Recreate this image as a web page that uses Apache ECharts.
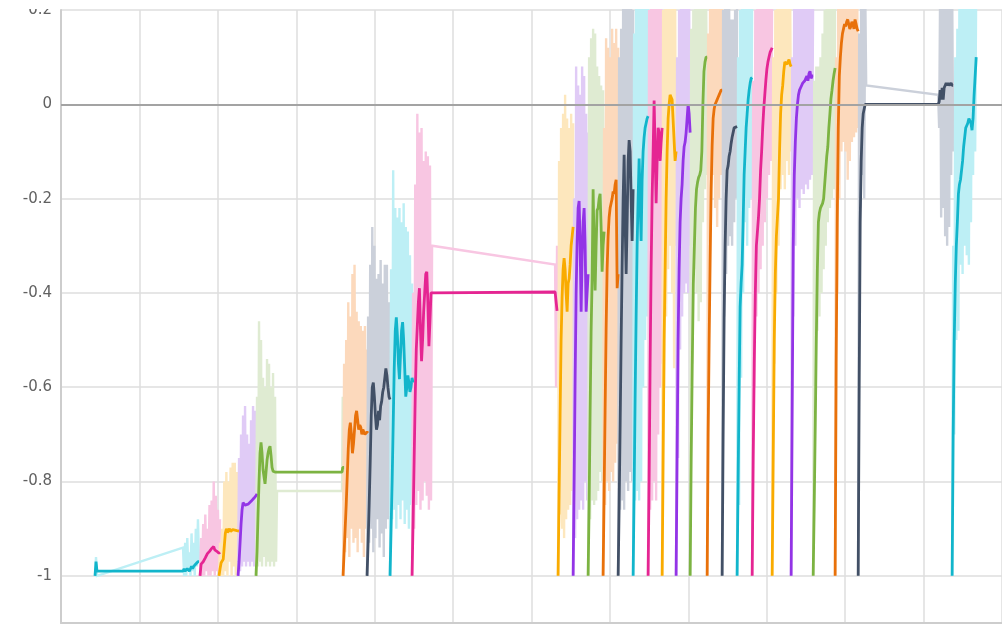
<!DOCTYPE html>
<html><head><meta charset="utf-8">
<script src="https://cdn.jsdelivr.net/npm/echarts@6/dist/echarts.min.js"></script>
<style>
html,body{margin:0;padding:0;background:#fff;width:1002px;height:625px;overflow:hidden}
#chart{position:absolute;left:0;top:9px;width:1002px;height:616px}
</style>
</head><body><div id="chart"></div>
<script>
// ---- axis ----
const STEP_MIN = 0, STEP_MAX = 12000, STEP_GRID = 1000;
const Y_MIN = -1.1, Y_MAX = 0.2;

// ---- run colour cycle (smoothed / raw) ----
const RUN_COLORS = ['#12b5cb','#e52592','#f9ab00','#9334e6','#7cb342','#e8710a','#425066'];
const RAW_COLORS = ['#bdeff5','#f8c6e2','#fde7bd','#e0cbf6','#dfebd2','#fcd9bc','#cbd0da'];

// ---- runs: step spans of each logged segment, raw values, smoothed values ----
const span01 = [[434,459],[1556,1760]];
const raw01 = [[-1.0,-0.96,-1.0],[-0.94,-1.0,-0.93,-1.0,-0.92,-0.99,-0.95,-1.0,-0.91,-0.99,-0.93,-1.0,-0.90,-0.98,-0.88,-0.97]];
const smo01 = [[-1.0,-0.97,-0.99],[-0.99,-0.985,-0.99,-0.99,-0.985,-0.985,-0.99,-0.985,-0.98,-0.985,-0.98,-0.98,-0.975,-0.975,-0.97,-0.97]];

const span02 = [[1773,2028]];
const raw02 = [[-1.0,-0.92,-1.0,-0.89,-1.0,-0.87,-0.99,-0.90,-1.0,-0.85,-1.0,-0.84,-0.99,-0.80,-1.0,-0.83,-0.99,-0.86,-1.0,-0.88]];
const smo02 = [[-1.0,-0.975,-0.972,-0.97,-0.966,-0.962,-0.958,-0.953,-0.95,-0.948,-0.945,-0.942,-0.94,-0.938,-0.945,-0.942,-0.948,-0.95,-0.952,-0.95]];

const span03 = [[2015,2270]];
const raw03 = [[-1.0,-0.93,-1.0,-0.90,-1.0,-0.80,-0.99,-0.78,-1.0,-0.80,-0.97,-0.77,-1.0,-0.76,-0.98,-0.76,-1.0,-0.78,-0.97,-0.83]];
const smo03 = [[-1.0,-0.985,-0.972,-0.97,-0.965,-0.962,-0.91,-0.90,-0.908,-0.905,-0.90,-0.906,-0.904,-0.902,-0.905,-0.903,-0.906,-0.904,-0.903,-0.905]];

const span04 = [[2258,2500]];
const raw04 = [[-1.0,-0.75,-0.99,-0.70,-0.98,-0.66,-0.97,-0.64,-0.98,-0.70,-0.97,-0.72,-0.98,-0.67,-0.97,-0.64,-0.98,-0.65,-0.97,-0.69]];
const smo04 = [[-1.0,-0.97,-0.93,-0.89,-0.86,-0.845,-0.848,-0.85,-0.846,-0.85,-0.848,-0.852,-0.845,-0.842,-0.84,-0.838,-0.835,-0.832,-0.83,-0.826]];

const span05 = [[2487,2755],[3584,3610]];
const raw05 = [[-1.0,-0.62,-0.98,-0.46,-0.97,-0.50,-0.98,-0.58,-0.96,-0.60,-0.98,-0.54,-0.97,-0.55,-0.98,-0.60,-0.97,-0.57,-0.98,-0.62,-0.97,-0.82],[-0.82,-0.62,-0.84,-0.70]];
const smo05 = [[-1.0,-0.95,-0.87,-0.80,-0.74,-0.717,-0.74,-0.775,-0.79,-0.805,-0.78,-0.755,-0.74,-0.73,-0.725,-0.745,-0.77,-0.778,-0.776,-0.78,-0.779,-0.78],[-0.78,-0.77,-0.77,-0.77]];

const span06 = [[3597,3916]];
const raw06 = [[-1.0,-0.55,-0.95,-0.50,-0.92,-0.42,-0.96,-0.45,-0.90,-0.36,-0.93,-0.34,-0.92,-0.44,-0.95,-0.46,-0.90,-0.47,-0.93,-0.48,-0.96,-0.47,-0.90,-0.52,-0.93]];
const smo06 = [[-1.0,-0.95,-0.90,-0.85,-0.79,-0.73,-0.69,-0.675,-0.70,-0.74,-0.72,-0.69,-0.66,-0.65,-0.67,-0.69,-0.68,-0.685,-0.70,-0.69,-0.695,-0.70,-0.698,-0.695,-0.697]];

const span07 = [[3903,4196]];
const raw07 = [[-1.0,-0.45,-0.93,-0.34,-0.90,-0.26,-0.95,-0.30,-0.92,-0.37,-0.88,-0.36,-0.94,-0.33,-0.91,-0.38,-0.96,-0.34,-0.90,-0.34,-0.88,-0.42,-0.90]];
const smo07 = [[-1.0,-0.93,-0.85,-0.76,-0.66,-0.60,-0.59,-0.62,-0.66,-0.69,-0.68,-0.65,-0.67,-0.64,-0.63,-0.61,-0.60,-0.58,-0.56,-0.575,-0.60,-0.62,-0.626]];

const span08 = [[4196,4490]];
const raw08 = [[-1.0,-0.35,-0.88,-0.14,-0.86,-0.22,-0.90,-0.24,-0.85,-0.22,-0.88,-0.25,-0.84,-0.21,-0.89,-0.26,-0.86,-0.27,-0.90,-0.32,-0.85,-0.38,-0.87]];
const smo08 = [[-1.0,-0.90,-0.80,-0.68,-0.56,-0.48,-0.452,-0.49,-0.55,-0.583,-0.53,-0.48,-0.462,-0.50,-0.56,-0.62,-0.60,-0.575,-0.59,-0.61,-0.60,-0.58,-0.59]];

const span09 = [[4477,4732],[6301,6326]];
const raw09 = [[-1.0,-0.40,-0.90,-0.17,-0.85,-0.02,-0.82,-0.06,-0.86,-0.05,-0.84,-0.12,-0.80,-0.10,-0.83,-0.11,-0.86,-0.13,-0.84,-0.30],[-0.34,-0.60,-0.30]];
const smo09 = [[-1.0,-0.88,-0.75,-0.62,-0.52,-0.47,-0.42,-0.39,-0.48,-0.545,-0.50,-0.44,-0.40,-0.36,-0.355,-0.42,-0.513,-0.46,-0.40,-0.397],[-0.398,-0.40,-0.438]];

const span10 = [[6339,6531]];
const raw10 = [[-1.0,-0.12,-0.87,-0.05,-0.90,-0.02,-0.92,0.02,-0.88,-0.03,-0.86,-0.05,-0.85,-0.02,-0.82,-0.04]];
const smo10 = [[-1.0,-0.83,-0.66,-0.50,-0.41,-0.35,-0.326,-0.35,-0.40,-0.44,-0.38,-0.37,-0.34,-0.30,-0.28,-0.26]];

const span11 = [[6531,6722]];
const raw11 = [[-1.0,-0.20,-0.92,0.08,-0.88,0.04,-0.86,0.02,-0.84,0.08,-0.86,0.06,-0.80,-0.02,-0.84,-0.06]];
const smo11 = [[-1.0,-0.80,-0.58,-0.40,-0.29,-0.22,-0.205,-0.30,-0.44,-0.32,-0.25,-0.22,-0.30,-0.44,-0.40,-0.36]];

const span12 = [[6722,6926]];
const raw12 = [[-1.0,0.10,-0.88,0.14,-0.84,0.16,-0.85,0.15,-0.84,0.08,-0.82,0.06,-0.78,0.04,-0.80,0.03,-0.75]];
const smo12 = [[-1.0,-0.85,-0.65,-0.48,-0.37,-0.18,-0.30,-0.395,-0.30,-0.225,-0.22,-0.20,-0.19,-0.26,-0.355,-0.30,-0.27]];

const span13 = [[6913,7105]];
const raw13 = [[-1.0,-0.05,-0.85,0.14,-0.80,0.12,-0.82,0.10,-0.78,0.16,-0.80,0.13,-0.76,0.16,-0.72,0.12]];
const smo13 = [[-1.0,-0.83,-0.65,-0.48,-0.35,-0.28,-0.24,-0.22,-0.21,-0.20,-0.185,-0.19,-0.17,-0.16,-0.39,-0.36]];

const span14 = [[7105,7296]];
const raw14 = [[-1.0,0.10,-0.86,0.16,-0.84,0.22,-0.86,0.25,-0.80,0.22,-0.82,0.25,-0.78,0.22,-0.80,0.20]];
const smo14 = [[-1.0,-0.85,-0.68,-0.50,-0.34,-0.20,-0.107,-0.25,-0.36,-0.25,-0.12,-0.076,-0.10,-0.20,-0.29,-0.18]];

const span15 = [[7296,7487]];
const raw15 = [[-1.0,0.15,-0.84,0.25,-0.82,0.25,-0.84,0.22,-0.80,0.25,-0.60,0.25,-0.50,0.22,-0.45,0.25]];
const smo15 = [[-1.0,-0.82,-0.62,-0.45,-0.30,-0.20,-0.115,-0.20,-0.29,-0.16,-0.10,-0.07,-0.05,-0.04,-0.03,-0.025]];

const span16 = [[7487,7666]];
const raw16 = [[-1.0,0.20,-0.86,0.25,-0.84,0.25,-0.80,0.25,-0.84,0.25,-0.70,0.25,-0.60,0.25,-0.55]];
const smo16 = [[-1.0,-0.80,-0.55,-0.35,-0.20,-0.10,0.008,-0.10,-0.21,-0.12,-0.05,-0.06,-0.12,-0.08,-0.05]];

const span17 = [[7666,7844]];
const raw17 = [[-1.0,0.20,-0.60,0.25,-0.45,0.25,-0.35,0.25,-0.30,0.25,-0.40,0.25,-0.56,0.22,-0.30]];
const smo17 = [[-1.0,-0.75,-0.50,-0.35,-0.20,-0.10,-0.03,0.0,0.02,0.015,0.01,0.012,0.01,-0.12,-0.10]];

const span18 = [[7844,8023]];
const raw18 = [[-1.0,0.10,-0.75,0.20,-0.52,0.25,-0.45,0.25,-0.40,0.25,-0.38,0.25,-0.40,0.22,-0.30]];
const smo18 = [[-1.0,-0.75,-0.50,-0.35,-0.25,-0.20,-0.17,-0.12,-0.09,-0.08,-0.06,-0.03,0.0,-0.02,-0.06]];

const span19 = [[8023,8240]];
const raw19 = [[-1.0,0.16,-0.55,0.20,-0.35,0.25,-0.40,0.25,-0.46,0.25,-0.42,0.25,-0.25,0.25,-0.18,0.25,-0.15]];
const smo19 = [[-1.0,-0.75,-0.55,-0.38,-0.30,-0.22,-0.18,-0.165,-0.155,-0.15,-0.14,-0.10,0.0,0.07,0.09,0.10,0.10]];

const span20 = [[8240,8431]];
const raw20 = [[-1.0,0.15,-0.35,0.25,-0.20,0.25,-0.15,0.25,-0.22,0.25,-0.26,0.25,-0.20,0.25,-0.15,0.25]];
const smo20 = [[-1.0,-0.70,-0.50,-0.33,-0.18,-0.087,-0.03,-0.01,0.0,0.005,0.01,0.015,0.02,0.025,0.03,0.03]];

const span21 = [[8431,8622]];
const raw21 = [[-1.0,0.20,-0.45,0.25,-0.36,0.25,-0.30,0.22,-0.28,0.18,-0.30,0.18,-0.25,0.20,-0.20,0.25]];
const smo21 = [[-1.0,-0.70,-0.45,-0.30,-0.20,-0.14,-0.13,-0.11,-0.10,-0.083,-0.07,-0.06,-0.05,-0.048,-0.047,-0.047]];

const span22 = [[8622,8814]];
const raw22 = [[-1.0,0.10,-0.85,0.20,-0.58,0.25,-0.40,0.25,-0.25,0.25,-0.30,0.25,-0.22,0.25,-0.20,0.25]];
const smo22 = [[-1.0,-0.80,-0.60,-0.43,-0.38,-0.34,-0.25,-0.15,-0.10,-0.05,-0.02,0.01,0.03,0.045,0.055,0.057]];

const span23 = [[8814,9069]];
const raw23 = [[-1.0,0.05,-0.60,0.20,-0.45,0.25,-0.40,0.25,-0.35,0.25,-0.30,0.25,-0.25,0.25,-0.20,0.25,-0.15,0.25,-0.12,0.25]];
const smo23 = [[-1.0,-0.75,-0.55,-0.40,-0.30,-0.27,-0.24,-0.20,-0.14,-0.10,-0.05,-0.01,0.02,0.05,0.075,0.09,0.10,0.11,0.115,0.12]];

const span24 = [[9069,9311]];
const raw24 = [[-1.0,0.10,-0.55,0.20,-0.40,0.25,-0.30,0.25,-0.18,0.25,-0.15,0.25,-0.18,0.25,-0.12,0.25,-0.15,0.25,-0.10]];
const smo24 = [[-1.0,-0.75,-0.50,-0.36,-0.28,-0.24,-0.20,-0.10,-0.02,0.02,0.04,0.07,0.09,0.09,0.085,0.09,0.095,0.085,0.08]];

const span25 = [[9311,9592]];
const raw25 = [[-1.0,0.10,-0.45,0.25,-0.30,0.25,-0.20,0.25,-0.22,0.25,-0.18,0.25,-0.19,0.25,-0.17,0.25,-0.18,0.25,-0.16,0.25,-0.15,0.25]];
const smo25 = [[-1.0,-0.65,-0.30,-0.15,-0.08,-0.03,0.0,0.02,0.03,0.035,0.04,0.045,0.048,0.05,0.055,0.06,0.05,0.065,0.07,0.055,0.06,0.06]];

const span26 = [[9592,9872]];
const raw26 = [[-1.0,0.05,-0.60,0.08,-0.48,0.08,-0.45,0.10,-0.40,0.15,-0.35,0.20,-0.30,0.25,-0.25,0.25,-0.22,0.25,-0.20,0.25,-0.18,0.25]];
const smo26 = [[-1.0,-0.85,-0.68,-0.50,-0.35,-0.25,-0.23,-0.22,-0.215,-0.21,-0.20,-0.17,-0.14,-0.11,-0.09,-0.05,-0.02,0.012,0.03,0.05,0.065,0.077]];

const span27 = [[9872,10166]];
const raw27 = [[-1.0,0.10,-0.40,0.25,-0.20,0.25,-0.10,0.25,-0.08,0.25,-0.10,0.25,-0.16,0.25,-0.12,0.25,-0.08,0.25,-0.07,0.25,-0.06,0.25,-0.05]];
const smo27 = [[-1.0,-0.55,-0.25,-0.05,0.06,0.10,0.13,0.15,0.16,0.17,0.165,0.175,0.18,0.17,0.16,0.165,0.175,0.17,0.16,0.18,0.17,0.16,0.155]];

const span28 = [[10166,10268],[11186,11377]];
const raw28 = [[-1.0,0.15,-0.22,0.25,-0.15,0.25,-0.20,0.25,0.04],[0.02,-0.05,0.25,-0.24,0.25,-0.22,0.25,-0.28,0.25,-0.30,0.25,-0.26,0.25,-0.15,0.25,-0.10]];
const smo28 = [[-1.0,-0.60,-0.25,-0.12,-0.05,-0.02,-0.01,0.0,0.0],[0.0,0.005,0.03,0.01,0.035,0.01,0.035,0.04,0.045,0.04,0.045,0.04,0.04,0.045,0.04,0.04]];

const span29 = [[11364,11671]];
const raw29 = [[-1.0,-0.30,-0.70,0.10,-0.50,0.16,-0.48,0.25,-0.34,0.25,-0.36,0.25,-0.30,0.25,-0.32,0.25,-0.34,0.25,-0.25,0.25,-0.15,0.25,-0.10,0.25]];
const smo29 = [[-1.0,-0.70,-0.50,-0.38,-0.30,-0.25,-0.19,-0.17,-0.16,-0.14,-0.12,-0.09,-0.07,-0.05,-0.045,-0.04,-0.03,-0.03,-0.04,-0.055,-0.03,0.02,0.06,0.10]];

const RUNS = [
  [span01,raw01,smo01],[span02,raw02,smo02],[span03,raw03,smo03],[span04,raw04,smo04],
  [span05,raw05,smo05],[span06,raw06,smo06],[span07,raw07,smo07],[span08,raw08,smo08],
  [span09,raw09,smo09],[span10,raw10,smo10],[span11,raw11,smo11],[span12,raw12,smo12],
  [span13,raw13,smo13],[span14,raw14,smo14],[span15,raw15,smo15],[span16,raw16,smo16],
  [span17,raw17,smo17],[span18,raw18,smo18],[span19,raw19,smo19],[span20,raw20,smo20],
  [span21,raw21,smo21],[span22,raw22,smo22],[span23,raw23,smo23],[span24,raw24,smo24],
  [span25,raw25,smo25],[span26,raw26,smo26],[span27,raw27,smo27],[span28,raw28,smo28],
  [span29,raw29,smo29]
];

// logged steps are evenly spaced inside each segment
function toPoints(spans, values) {
  const pts = [];
  spans.forEach((sp, k) => {
    const v = values[k], n = v.length;
    for (let i = 0; i < n; i++) {
      const step = n > 1 ? sp[0] + (sp[1] - sp[0]) * i / (n - 1) : sp[0];
      pts.push([step, v[i]]);
    }
  });
  return pts;
}

const rawSeries = [], smoothSeries = [];
RUNS.forEach((r, i) => {
  const c = i % RUN_COLORS.length;
  rawSeries.push({
    type: 'line', name: 'run' + (i + 1) + ' raw', data: toPoints(r[0], r[1]),
    symbol: 'none', showSymbol: false, silent: true, animation: false, clip: true, z: 2,
    lineStyle: { color: RAW_COLORS[c], width: 2.4, join: 'miter' }
  });
  smoothSeries.push({
    type: 'line', name: 'run' + (i + 1), data: toPoints(r[0], r[2]),
    symbol: 'none', showSymbol: false, silent: true, animation: false, clip: true, z: 3,
    lineStyle: { color: RUN_COLORS[c], width: 2.8 }
  });
});

const zeroLine = {
  type: 'line', data: [], z: 1, silent: true, animation: false,
  markLine: { silent: true, symbol: 'none', animation: false, label: { show: false },
    lineStyle: { color: '#a3a3a3', width: 2, type: 'solid' }, data: [{ yAxis: 0 }] }
};

const chart = echarts.init(document.getElementById('chart'), null, { renderer: 'canvas' });
chart.setOption({
  animation: false,
  backgroundColor: '#ffffff',
  grid: { left: 61, right: 0, top: 1, bottom: 2, containLabel: false, outerBoundsMode: 'none' },
  xAxis: {
    type: 'value', min: STEP_MIN, max: STEP_MAX, interval: STEP_GRID,
    axisLine: { show: true, onZero: false, lineStyle: { color: '#cdcdcd', width: 2 } },
    axisTick: { show: false }, axisLabel: { show: false },
    splitLine: { show: true, lineStyle: { color: '#dedede', width: 1.5 } }
  },
  yAxis: {
    type: 'value', min: Y_MIN, max: Y_MAX, splitNumber: 6, minInterval: 0.2, maxInterval: 0.2,
    axisLine: { show: true, lineStyle: { color: '#cdcdcd', width: 2 } },
    axisTick: { show: false },
    axisLabel: { showMinLabel: false, color: '#616161', fontSize: 15, fontFamily: 'DejaVu Sans', margin: 9 },
    splitLine: { show: true, lineStyle: { color: '#dedede', width: 1.5 } }
  },
  series: [zeroLine].concat(rawSeries, smoothSeries)
});
</script></body></html>
